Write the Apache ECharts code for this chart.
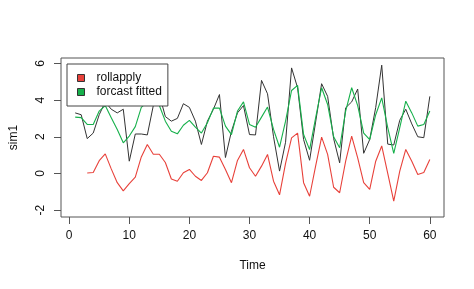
<!DOCTYPE html>
<html>
<head>
<meta charset="utf-8">
<script src="https://cdn.jsdelivr.net/npm/echarts@6/dist/echarts.min.js"></script>
<style>
  html, body { margin: 0; padding: 0; background: #fff; }
  #chart { width: 474px; height: 289px; }
</style>
</head>
<body>
<div id="chart"></div>
<script>
// time index 1..60
const timeIdx = Array.from({length: 60}, (_, i) => i + 1);

// sim1 (black)
const sim1 = [
  3.3, 3.2, 1.9, 2.2, 3.2, 3.9, 3.5, 3.3, 3.5, 0.67,
  2.15, 2.15, 2.1, 3.7, 4.3, 3.1, 2.85, 3.0, 3.8, 3.6,
  2.85, 1.58, 2.85, 3.5, 4.3, 0.87, 2.3, 3.3, 3.7, 2.12,
  2.1, 5.07, 4.34, 2.0, 0.13, 1.7, 5.75, 4.67, 1.85, 0.72,
  2.8, 4.89, 4.2, 1.9, 0.58, 3.58, 3.9, 4.6, 1.1, 1.85,
  3.6, 5.9, 1.6, 1.55, 2.9, 3.5, 2.7, 2.0, 1.95, 4.2
];

// forecast fitted (green)
const fitted = [
  3.07, 3.04, 2.67, 2.67, 3.4, 3.7, 3.04, 2.4, 1.67, 2.04,
  2.55, 3.6, 3.9, 3.8, 3.7, 2.85, 2.3, 2.16, 2.63, 2.89,
  2.52, 2.2, 2.76, 3.56, 3.56, 2.58, 2.12, 3.4, 3.9, 2.67,
  2.52, 3.07, 3.62, 2.4, 1.43, 2.85, 4.52, 4.8, 2.12, 1.3,
  3.03, 4.67, 3.76, 2.0, 1.4, 3.4, 4.67, 3.7, 2.2, 1.85,
  3.2, 4.12, 2.5, 1.1, 2.5, 3.94, 3.3, 2.58, 2.67, 3.4
];

// rollapply (red), first two are NA
const rollapply = [
  null, null, 0.03, 0.05, 0.7, 1.07, 0.25, -0.5, -0.95, -0.55,
  -0.2, 0.9, 1.58, 1.05, 1.05, 0.6, -0.3, -0.42, 0.04, 0.22,
  -0.15, -0.38, 0.04, 0.94, 0.89, 0.22, -0.5, 0.71, 1.31, 0.31,
  -0.15, 0.4, 1.04, -0.42, -1.16, 0.55, 1.94, 2.2, -0.5, -1.24,
  0.4, 1.98, 1.04, -0.75, -1.05, 0.67, 2.03, 0.85, -0.5, -0.87,
  0.67, 1.5, 0.0, -1.5, 0.13, 1.31, 0.67, -0.05, 0.05, 0.76
];

const xTicks = [0, 10, 20, 30, 40, 50, 60];
const yTicks = [-2, 0, 2, 4, 6];

const pairs = (vals) => timeIdx.map((t, i) => [t, vals[i]]);

const font = 'Liberation Sans, Arial, sans-serif';

const options = {
  animation: false,
  backgroundColor: '#fff',
  grid: {
    left: 58, right: 30, top: 58, bottom: 72,
    show: true,
    borderColor: '#555',
    borderWidth: 1
  },
  legend: {
    data: ['rollapply', 'forcast fitted'],
    orient: 'vertical',
    left: 67,
    top: 64,
    icon: 'rect',
    itemWidth: 7,
    itemHeight: 7,
    itemGap: 2,
    padding: [8, 6, 8, 10],
    backgroundColor: '#fff',
    borderColor: '#444',
    borderWidth: 1,
    borderRadius: 0,
    itemStyle: { borderColor: '#333', borderWidth: 1 },
    textStyle: {
      color: '#111', fontSize: 12, fontFamily: font,
      lineHeight: 12, padding: [0, 0, 0, 7]
    }
  },
  xAxis: {
    type: 'value',
    min: -1.36,
    max: 62.36,
    name: 'Time',
    nameLocation: 'middle',
    nameGap: 43,
    nameTextStyle: { color: '#111', fontSize: 12, fontFamily: font },
    axisLine: { show: false, onZero: false },
    splitLine: { show: false },
    axisTick: {
      show: true, length: 7, customValues: xTicks,
      lineStyle: { color: '#555' }
    },
    axisLabel: {
      customValues: xTicks, margin: 13,
      color: '#111', fontSize: 12, fontFamily: font
    }
  },
  yAxis: {
    type: 'value',
    min: -2.37,
    max: 6.29,
    name: 'sim1',
    nameLocation: 'middle',
    nameGap: 41,
    nameRotate: 90,
    nameTextStyle: { color: '#111', fontSize: 12, fontFamily: font },
    axisLine: { show: false, onZero: false },
    splitLine: { show: false },
    axisTick: {
      show: true, length: 7, customValues: yTicks,
      lineStyle: { color: '#555' }
    },
    axisLabel: {
      customValues: yTicks, rotate: 90, margin: 14,
      color: '#111', fontSize: 12, fontFamily: font
    }
  },
  series: [
    {
      name: 'sim1',
      type: 'line',
      data: pairs(sim1),
      symbol: 'none',
      lineStyle: { color: '#333', width: 1 },
      itemStyle: { color: '#333' },
      z: 2
    },
    {
      name: 'rollapply',
      type: 'line',
      data: pairs(rollapply),
      symbol: 'none',
      connectNulls: false,
      lineStyle: { color: '#e8413a', width: 1.1 },
      itemStyle: { color: '#e8413a' },
      z: 3
    },
    {
      name: 'forcast fitted',
      type: 'line',
      data: pairs(fitted),
      symbol: 'none',
      lineStyle: { color: '#16b04b', width: 1.1 },
      itemStyle: { color: '#16b04b' },
      z: 3
    }
  ]
};

const chart = echarts.init(document.getElementById('chart'));
chart.setOption(options);
</script>
</body>
</html>
